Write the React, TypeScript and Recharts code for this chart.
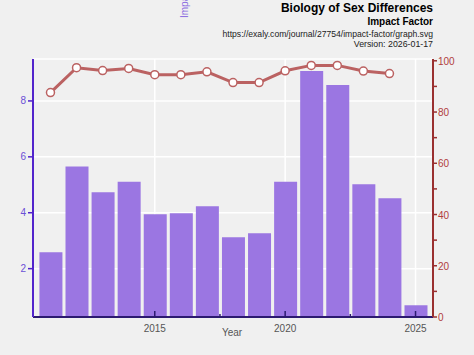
import { ComposedChart, Bar, Line, XAxis, YAxis, CartesianGrid } from 'recharts'

const years = [2011, 2012, 2013, 2014, 2015, 2016, 2017, 2018, 2019, 2020, 2021, 2022, 2023, 2024, 2025]
const impactFactor = [2.59, 5.65, 4.73, 5.11, 3.95, 3.98, 4.23, 3.12, 3.27, 5.11, 9.07, 8.57, 5.02, 4.52, 0.69]
const percentile = [87.6, 97.3, 96.2, 97.0, 94.6, 94.6, 95.7, 91.5, 91.5, 96.1, 98.2, 98.2, 96.0, 95.0, null]

const yearTicks = [2015, 2017.5, 2020, 2022.5, 2025]
const gridYears = [2015, 2020, 2025]
const ifTicks = [2, 4, 6, 8]
const pctTicks = [0, 10, 20, 30, 40, 50, 60, 70, 80, 90, 100]

const data = years.map((year, i) => ({ year, impact: impactFactor[i], pct: percentile[i] }))

const FONT = '"Liberation Sans", Arial, sans-serif'

const YearTick = ({ x, y, payload }: any) => {
  const major = payload.value % 5 === 0
  return (
    <g>
      <line x1={x} x2={x} y1={y} y2={y - (major ? 6 : 3)} stroke="#2c1a70" strokeWidth={1.5} />
      {major && (
        <text x={x} y={y + 15} textAnchor="middle" fill="#555" fontSize={10} fontFamily={FONT}>
          {payload.value}
        </text>
      )}
    </g>
  )
}

const PctTick = ({ x, y, payload }: any) => {
  if (payload.value % 20 !== 0) return <g />
  return (
    <text x={x} y={y + 4} textAnchor="start" fill="#b03c3c" fontSize={10} fontFamily={FONT}>
      {payload.value}
    </text>
  )
}

export default function App() {
  return (
    <div style={{ position: 'fixed', left: 0, top: 0, width: 474, height: 355, background: '#f0f0f0' }}>
      <ComposedChart
        width={474}
        height={355}
        data={data}
        margin={{ top: 59, right: 0, bottom: 0, left: 0 }}
        style={{ fontFamily: FONT }}
      >
        <CartesianGrid
          xAxisId="x"
          yAxisId="left"
          stroke="#ffffff"
          strokeWidth={1.5}
          verticalValues={gridYears}
        />
        <XAxis
          xAxisId="x"
          dataKey="year"
          type="number"
          domain={[2010.33, 2025.67]}
          allowDataOverflow
          ticks={yearTicks}
          interval={0}
          tick={<YearTick />}
          tickSize={0}
          tickMargin={0}
          tickLine={false}
          height={38}
          axisLine={{ stroke: '#2c1a70', strokeWidth: 2 }}
        />
        <YAxis
          yAxisId="left"
          orientation="left"
          domain={[0.27, 9.5]}
          allowDataOverflow
          ticks={ifTicks}
          width={33}
          tickSize={5}
          tickMargin={2}
          tick={{ fill: '#6b4fd6', fontSize: 10 }}
          tickLine={{ stroke: '#5224cc', strokeWidth: 1.5 }}
          axisLine={{ stroke: '#5224cc', strokeWidth: 2 }}
        />
        <YAxis
          yAxisId="right"
          orientation="right"
          domain={[0, 100.7]}
          allowDataOverflow
          ticks={pctTicks}
          interval={0}
          width={41}
          tickSize={4}
          tickMargin={1}
          tick={<PctTick />}
          tickLine={{ stroke: '#9a3030', strokeWidth: 1.5 }}
          axisLine={{ stroke: '#9a3030', strokeWidth: 2 }}
        />
        <Bar
          xAxisId="x"
          yAxisId="left"
          dataKey="impact"
          fill="#9b76e2"
          barSize={23}
          isAnimationActive={false}
        />
        <Line
          xAxisId="x"
          yAxisId="right"
          dataKey="pct"
          stroke="#bb6262"
          strokeWidth={3}
          dot={{ r: 4, fill: '#ffffff', stroke: '#bb6262', strokeWidth: 1.5 }}
          isAnimationActive={false}
        />
      </ComposedChart>
      <svg
        width={474}
        height={60}
        style={{ position: 'absolute', left: 0, top: 0, fontFamily: FONT, pointerEvents: 'none' }}
      >
        {/* axis title sits mostly above the frame, as in the original */}
        <text x={188} y={18} transform="rotate(-90 188 18)" fill="#8a6ae0" fontSize={10}>
          Impact Factor
        </text>
        <text x={433} y={12} textAnchor="end" fontSize={12} fontWeight="bold" fill="#000">
          Biology of Sex Differences
        </text>
        <text x={433} y={24.5} textAnchor="end" fontSize={10} fontWeight="bold" fill="#000">
          Impact Factor
        </text>
        <text x={433} y={36.5} textAnchor="end" fontSize={8.6} fill="#222">
          https://exaly.com/journal/27754/impact-factor/graph.svg
        </text>
        <text x={433} y={47} textAnchor="end" fontSize={8.8} fill="#222">
          Version: 2026-01-17
        </text>
      </svg>
      <svg
        width={474}
        height={30}
        style={{ position: 'absolute', left: 0, top: 325, fontFamily: FONT, pointerEvents: 'none' }}
      >
        <text x={232} y={11} textAnchor="middle" fontSize={10} fill="#555">
          Year
        </text>
      </svg>
    </div>
  )
}
